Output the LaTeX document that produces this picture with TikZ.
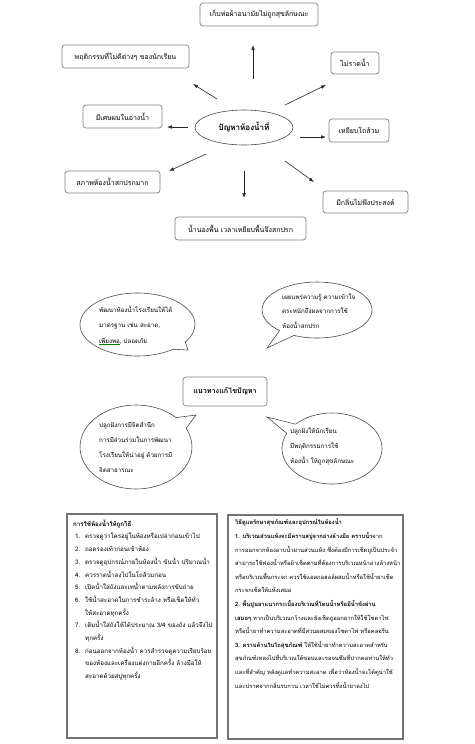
\documentclass[tikz,border=0pt]{standalone}
\usepackage{fontspec}
\setmainfont{Loma}[Script=Thai]
\usetikzlibrary{shapes.geometric,shapes.callouts,arrows.meta}
\newcommand\greenul[1]{\setbox0\hbox{#1}\rlap{\color{green!50!black}\rule[-1.6pt]{\wd0}{0.5pt}}\box0}
\newcommand\itm[2]{\makebox[10pt][l]{#1}#2}
\begin{document}
\begin{tikzpicture}[x=1pt,y=-1pt,
  pbox/.style={draw=black!50, rounded corners=3pt, line width=0.7pt, minimum height=23pt, inner sep=1pt, font=\fontsize{7}{8}\selectfont},
  arr/.style={-{Latex[length=5pt,width=3.6pt]}, line width=0.6pt, black!85},
  bubble/.style={ellipse callout, draw=black!70, line width=0.6pt, inner sep=0pt, callout pointer arc=18},
  bigbox/.style={draw=black!55, line width=1.3pt},
  boxtext/.style={anchor=north west, inner sep=0pt, align=left}]
\useasboundingbox[fill=white] (0,0) rectangle (474,744);

% central problem
\node[ellipse, draw=black!70, line width=0.6pt, minimum width=98pt, minimum height=35pt, inner sep=0pt, font=\fontsize{8}{10}\selectfont\bfseries] (c) at (244,127.5) {ปัญหาห้องน้ำที่};

\node[pbox, minimum width=118pt] (b1) at (259,14.5) {เก็บห่อผ้าอนามัยไม่ถูกสุขลักษณะ};
\node[pbox, minimum width=127pt] (b2) at (125.5,56.5) {พฤติกรรมที่ไม่ดีต่างๆ ของนักเรียน};
\node[pbox, minimum width=48pt, minimum height=22pt] (b3) at (355,63) {ไม่ราดน้ำ};
\node[pbox, minimum width=79pt] (b4) at (122.5,116.5) {มีเศษผมในอ่างน้ำ};
\node[pbox, minimum width=60pt] (b5) at (359,130.5) {เหยียบโถส้วม};
\node[pbox, minimum width=95pt, minimum height=22pt] (b6) at (112.5,182) {สภาพห้องน้ำสกปรกมาก};
\node[pbox, minimum width=85pt, minimum height=22pt] (b7) at (365.5,202) {มีกลิ่นไม่พึงประสงค์};
\node[pbox, minimum width=131pt] (b8) at (240.5,228.5) {น้ำนองพื้น เวลาเหยียบพื้นจึงสกปรก};

% arrows
\coordinate (s1) at (253,79);  \coordinate (e1) at (253,45);
\coordinate (s2) at (217,99);  \coordinate (e2) at (193,84);
\coordinate (s3) at (285,105); \coordinate (e3) at (326,85);
\coordinate (s4) at (188,127); \coordinate (e4) at (167,127);
\coordinate (s5) at (300,137); \coordinate (e5) at (326,137);
\coordinate (s6) at (206,154); \coordinate (e6) at (169,171);
\coordinate (s7) at (244,171); \coordinate (e7) at (244,198);
\coordinate (s8) at (285,161); \coordinate (e8) at (314,182);
\foreach \i in {1,...,8} \draw[arr] (s\i) -- (e\i);

% bubbles (top)
\node[bubble, minimum width=115pt, minimum height=63pt, callout absolute pointer={(188,350)}] (t1) at (137.5,324.5) {};
\node[boxtext, font=\fontsize{6.2}{15.5}\selectfont] (t1x) at (99,305.5)
  {พัฒนาห้องน้ำโรงเรียนให้ได้\\ มาตรฐาน เช่น สะอาด,\\ \greenul{เพียงพอ}, ปลอดภัย};
\node[bubble, minimum width=110pt, minimum height=56pt, callout absolute pointer={(267,348)}] (t2) at (317,310) {};
\node[boxtext, font=\fontsize{6.2}{14.5}\selectfont] (t2x) at (282,293.5)
  {เผยแพร่ความรู้ ความเข้าใจ\\ ตระหนักถึงผลจากการใช้\\ ห้องน้ำสกปรก};

% solutions
\node[pbox, minimum width=84pt, minimum height=29pt, font=\fontsize{7.2}{9}\selectfont\bfseries] (sol) at (225,391.5) {แนวทางแก้ไขปัญหา};
\node[bubble, minimum width=112pt, minimum height=84pt, callout absolute pointer={(196,415)}] (t3) at (136,447) {};
\node[boxtext, font=\fontsize{6.2}{15}\selectfont] (t3x) at (99,422.5)
  {ปลูกฝังการมีจิตสำนึก\\ การมีส่วนร่วมในการพัฒนา\\ โรงเรียนให้น่าอยู่ ด้วยการมี\\ จิตสาธารณะ};
\node[bubble, minimum width=100pt, minimum height=71pt, callout absolute pointer={(267,417)}] (t4) at (332,448.5) {};
\node[boxtext, font=\fontsize{6.2}{15}\selectfont] (t4x) at (290,427.5)
  {ปลูกฝังให้นักเรียน\\ มีพฤติกรรมการใช้\\ ห้องน้ำ ให้ถูกสุขลักษณะ};

% bottom boxes
\draw[bigbox] (67,514) rectangle (217,738);
\draw[bigbox] (228,515) rectangle (403,739);

\node[boxtext, font=\fontsize{6.2}{12.7}\selectfont] (lt) at (73,519.5) {%
{\bfseries การใช้ห้องน้ำให้ถูกวิธี}\\
\hspace*{2pt}\itm{1.}{ตรวจดูว่าใครอยู่ในห้องหรือเปล่าก่อนเข้าไป}\\
\hspace*{2pt}\itm{2.}{ถอดรองเท้าก่อนเข้าห้อง}\\
\hspace*{2pt}\itm{3.}{ตรวจดูอุปกรณ์ภายในห้องน้ำ ขันน้ำ ปริมาณน้ำ}\\
\hspace*{2pt}\itm{4.}{ควรราดน้ำลงไปในโถส้วมก่อน}\\
\hspace*{2pt}\itm{5.}{เปิดน้ำใส่ถังและเทน้ำตามหลังการขับถ่าย}\\
\hspace*{2pt}\itm{6.}{ใช้น้ำสะอาดในการชำระล้าง หรือเช็ดให้ทั่ว}\\
\hspace*{12pt}ให้สะอาดทุกครั้ง\\
\hspace*{2pt}\itm{7.}{เติมน้ำใส่ถังให้ได้ประมาณ 3/4 ของถัง แล้วจึงไป}\\
\hspace*{12pt}ทุกครั้ง\\
\hspace*{2pt}\itm{8.}{ก่อนออกจากห้องน้ำ ควรสำรวจดูความเรียบร้อย}\\
\hspace*{12pt}ของห้องและเครื่องแต่งกายอีกครั้ง ล้างมือให้\\
\hspace*{12pt}สะอาดด้วยสบู่ทุกครั้ง};

\node[boxtext, font=\fontsize{5.8}{13.6}\selectfont] (rt) at (235,518.5) {%
{\bfseries วิธีดูแลรักษาสุขภัณฑ์และอุปกรณ์ในห้องน้ำ}\\
{\bfseries 1. บริเวณส่วนแห้งจะมีคราบสบู่จากอ่างล้างมือ คราบน้ำ}จาก\\
การออกจากห้องอาบน้ำผ่านส่วนแห้ง ซึ่งต้องมีการเช็ดถูเป็นประจำ\\
สามารถใช้ฟองน้ำหรือผ้าเช็ดตามที่ต้องการบริเวณหน้าอ่างล้างหน้า\\
หรือบริเวณพื้นกระจก ควรใช้แอลกอฮอล์ผสมน้ำหรือใช้น้ำยาเช็ด\\
กระจกเช็ดให้แห้งเสมอ\\
{\bfseries 2. พื้นปูนยาแนวกระเบื้องบริเวณที่โดนน้ำหรือมีน้ำขังผ่าน}\\
{\bfseries เสมอๆ} หากเป็นบริเวณกว้างและยังเช็ดถูออกยากให้ใช้โซดาไฟ\\
หรือน้ำยาทำความสะอาดที่มีส่วนผสมของโซดาไฟ หรือคลอรีน\\
{\bfseries 3. คราบด้านในโถสุขภัณฑ์} ให้ใช้น้ำยาทำความสะอาดสำหรับ\\
สุขภัณฑ์เทลงไปที่บริเวณใต้ขอบและรอจนซึมที่ปากคอห่านให้ทั่ว\\
และที่สำคัญ หลังดูแลทำความสะอาด เพื่อว่าห้องน้ำจะได้ดูน่าใช้\\
และปราศจากกลิ่นรบกวน เวลาใช้ไม่ควรทิ้งน้ำยาลงไป};
\end{tikzpicture}
\end{document}
